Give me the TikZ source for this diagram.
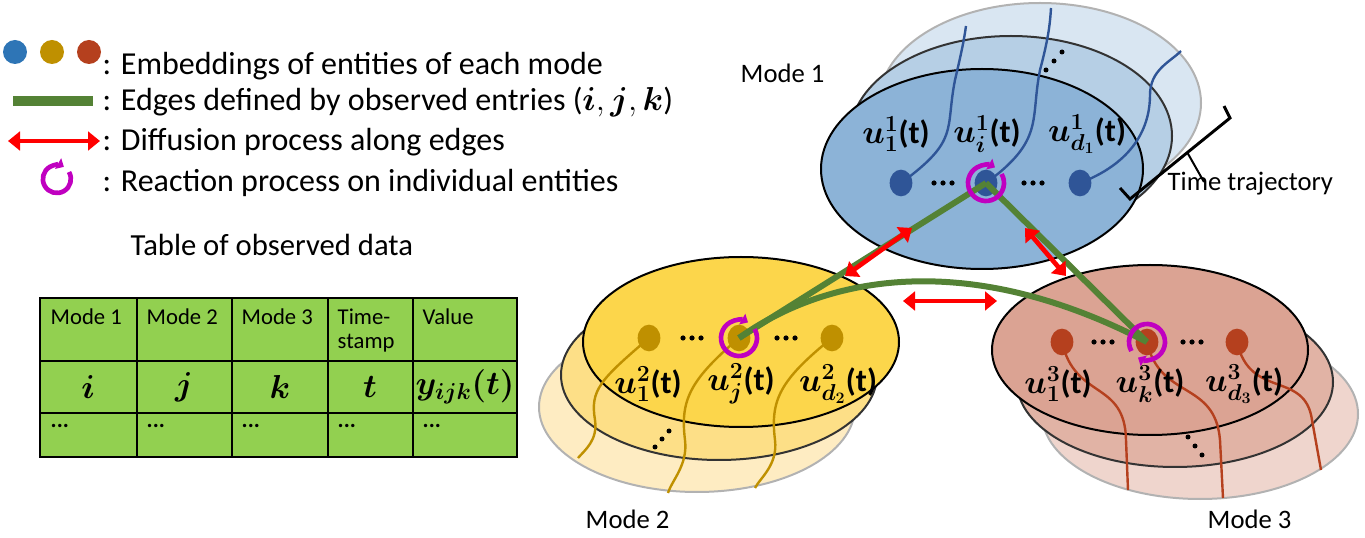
\documentclass[tikz,border=0pt]{standalone}
\usepackage{fontspec}
\usepackage{amsmath,bm}
\setmainfont{Carlito}
\usetikzlibrary{shapes.geometric,arrows.meta}
\definecolor{cb}{HTML}{2E75B6}
\definecolor{cbd}{HTML}{2F5597}
\definecolor{cg}{HTML}{BF9000}
\definecolor{cr}{HTML}{B5401E}
\definecolor{cgr}{HTML}{548235}
\definecolor{cmag}{HTML}{C000C0}
\definecolor{tgreen}{HTML}{92D050}
\begin{document}
\begin{tikzpicture}[x=0.75pt,y=-0.75pt,
  dotb/.style={ellipse,fill=cbd,minimum width=17pt,minimum height=20pt,inner sep=0pt},
  dotg/.style={ellipse,fill=cg,minimum width=17pt,minimum height=20pt,inner sep=0pt},
  dotr/.style={ellipse,fill=cr,minimum width=17pt,minimum height=20pt,inner sep=0pt},
  edge/.style={cgr,line width=4.5pt},
  diff/.style={red,line width=3.5pt,{Triangle[length=9pt,width=14pt]}-{Triangle[length=9pt,width=14pt]}},
  react/.style={cmag,line width=3.5pt,-{Triangle[length=5pt,width=9pt]}},
  lbl/.style={font=\fontsize{24}{26}\selectfont,inner sep=1pt},
  leg/.style={font=\fontsize{24}{28}\selectfont,anchor=west},
  mode/.style={font=\fontsize{20}{24}\selectfont},
  traj1/.style={cbd,line width=1.8pt},
  traj2/.style={cg,line width=1.8pt},
  traj3/.style={cr,line width=1.8pt},
  cell/.style={font=\fontsize{17}{18}\selectfont,anchor=north west,align=left},
  mcell/.style={font=\fontsize{24}{26}\selectfont}]
\useasboundingbox (0,0) rectangle (1365,538);
% legend
\fill[cb] (15,52) circle (12);
\fill[cg] (52,52) circle (12);
\fill[cr] (89,52) circle (12);
\node[leg] (l1) at (98,66) {: Embeddings of entities of each mode};
\draw[cgr,line width=7pt] (13,101) -- (93,101);
\node[leg] (l2) at (98,102) {: Edges defined by observed entries ($\bm{i},\bm{j},\bm{k}$)};
\draw[diff] (8,141) -- (100,141);
\node[leg] (l3) at (98,142) {: Diffusion process along edges};
\draw[react] (69,172) arc (-30:300:14);
\node[leg] (l4) at (98,183) {: Reaction process on individual entities};
\node[font=\fontsize{23}{26}\selectfont,anchor=west] (tt) at (126,245) {Table of observed data};
% table
\fill[tgreen] (40,298) rectangle (517,457);
\draw[line width=1.2pt] (40,298) rectangle (517,457);
\foreach \y in {361,413} \draw[line width=1.2pt] (40,\y) -- (517,\y);
\foreach \x in {137,232,328,413} \draw[line width=1.2pt] (\x,298) -- (\x,457);
\node[cell] at (46,304) {Mode 1};
\node[cell] at (142,304) {Mode 2};
\node[cell] at (237,304) {Mode 3};
\node[cell] at (333,304) {Time-\\stamp};
\node[cell] at (418,304) {Value};
\node[mcell] at (88,387) {$\bm{i}$};
\node[mcell] at (184,387) {$\bm{j}$};
\node[mcell] at (280,387) {$\bm{k}$};
\node[mcell] at (370,387) {$\bm{t}$};
\node[mcell] at (465,387) {$\bm{y_{ijk}(t)}$};
\foreach \x in {46,142,237,333,418} \node[cell] at (\x,420) {\textbf{...}};
% mode 1 ellipses
\filldraw[fill=cb!18,draw=gray!60,line width=1.5pt] (1040,103) ellipse (161 and 100);
\filldraw[fill=cb!35,draw=black!80,line width=1.5pt] (1011,136) ellipse (161 and 100);
\filldraw[fill=cb!55,draw=black,line width=1.5pt] (982,169) ellipse (161 and 100);
% mode 2 ellipses
\filldraw[fill=yellow!40!orange!22,draw=gray!60,line width=1.5pt] (697,407) ellipse (158 and 85);
\filldraw[fill=yellow!50!orange!45,draw=black!80,line width=1.5pt] (719,375) ellipse (158 and 85);
\filldraw[fill=yellow!60!orange!70,draw=black,line width=1.5pt] (741,342) ellipse (158 and 85);
% mode 3 ellipses
\filldraw[fill=cr!22,draw=gray!60,line width=1.5pt] (1200,414) ellipse (158 and 85);
\filldraw[fill=cr!40,draw=black!80,line width=1.5pt] (1175,382) ellipse (158 and 85);
\filldraw[fill=cr!48,draw=black,line width=1.5pt] (1150,350) ellipse (158 and 85);
% dots
\node[dotb] (a1) at (901,183) {};
\node[dotb] (ai) at (986,183) {};
\node[dotb] (ad) at (1080,183) {};
\node[dotg] (b1) at (649,338) {};
\node[dotg] (bj) at (739,338) {};
\node[dotg] (bd) at (832,338) {};
\node[dotr] (c1) at (1062,342) {};
\node[dotr] (ck) at (1147,342) {};
\node[dotr] (cd) at (1237,342) {};
% trajectories
\coordinate (ta1) at (966,26); \coordinate (tai) at (1051,8); \coordinate (tad) at (1181,51);
\draw[traj1] (a1.center) .. controls (960,140) and (945,130) .. (955,80) .. controls (962,50) and (964,40) .. (ta1);
\draw[traj1] (ai.center) .. controls (1045,140) and (1030,120) .. (1040,70) .. controls (1048,40) and (1050,25) .. (tai);
\draw[traj1] (ad.center) .. controls (1140,160) and (1150,120) .. (1150,95) .. controls (1150,70) and (1170,62) .. (tad);
\coordinate (tb1) at (578,458); \coordinate (tbj) at (668,493); \coordinate (tbd) at (755,488);
\draw[traj2] (b1.center) .. controls (600,380) and (590,390) .. (595,420) .. controls (598,440) and (585,450) .. (tb1);
\draw[traj2] (bj.center) .. controls (690,380) and (680,400) .. (685,440) .. controls (688,465) and (672,480) .. (tbj);
\draw[traj2] (bd.center) .. controls (780,380) and (770,400) .. (775,440) .. controls (778,465) and (760,478) .. (tbd);
\coordinate (tc1) at (1128,490); \coordinate (tck) at (1223,498); \coordinate (tcd) at (1321,470);
\draw[traj3] (c1.center) .. controls (1075,400) and (1125,380) .. (1126,440) -- (tc1);
\draw[traj3] (ck.center) .. controls (1160,400) and (1215,380) .. (1220,440) -- (tck);
\draw[traj3] (cd.center) .. controls (1250,400) and (1305,370) .. (1312,420) -- (tcd);
% ellipsis marks (drawn as dots)
\foreach \x/\y in {1046/70,1054/61,1062/52, 655/447,662/439,669/431, 1188/437,1195/446,1202/455}
  \fill (\x,\y) circle (2.5);
\foreach \x/\y in {943/183,1033/183,692/338,786/338,1103/342,1192/342}
  \foreach \d in {-9,0,9} \fill (\x+\d,\y) circle (2.6);
% labels
\node[lbl] at (896,134) {$\bm{u}^{\bm 1}_{\bm 1}$\textbf{(t)}};
\node[lbl] at (987,134) {$\bm{u}^{\bm 1}_{\bm i}$\textbf{(t)}};
\node[lbl] at (1087,134) {$\bm{u}^{\bm 1}_{\bm{d_1}}$\textbf{(t)}};
\node[lbl] at (648,384) {$\bm{u}^{\bm 2}_{\bm 1}$\textbf{(t)}};
\node[lbl] at (741,384) {$\bm{u}^{\bm 2}_{\bm j}$\textbf{(t)}};
\node[lbl] at (838,384) {$\bm{u}^{\bm 2}_{\bm{d_2}}$\textbf{(t)}};
\node[lbl] at (1058,384) {$\bm{u}^{\bm 3}_{\bm 1}$\textbf{(t)}};
\node[lbl] at (1150,384) {$\bm{u}^{\bm 3}_{\bm k}$\textbf{(t)}};
\node[lbl] at (1244,384) {$\bm{u}^{\bm 3}_{\bm{d_3}}$\textbf{(t)}};
% edges
\draw[edge] (ai.center) -- (bj.center);
\draw[edge] (ai.center) -- (ck.center);
\draw[edge] (bj.center) .. controls (820,280) and (960,245) .. (ck.center);
% reaction arcs
\draw[react] ([shift={(-30:18)}]ai.center) arc (-30:300:18);
\draw[react] ([shift={(-30:18)}]bj.center) arc (-30:300:18) ;
\draw[react] ([shift={(150:18)}]ck.center) arc (150:480:18);
% diffusion arrows
\coordinate (d1a) at (845,276); \coordinate (d1b) at (912,228);
\coordinate (d2a) at (1025,228); \coordinate (d2b) at (1066,276);
\coordinate (d3a) at (903,301); \coordinate (d3b) at (997,301);
\draw[diff] (d1a) -- (d1b);
\draw[diff] (d2a) -- (d2b);
\draw[diff] (d3a) -- (d3b);
% time trajectory bracket
\draw[line width=2.2pt] (1120,188) -- (1130,199) -- (1230,118) -- (1224,106);
\draw[line width=1.5pt] (1187,152) -- (1204,182);
\node[mode,anchor=west] (tl) at (1163,184) {Time trajectory};
\node[mode,anchor=west] (m1) at (736,73) {Mode 1};
\node[mode,anchor=west] (m2) at (581,519) {Mode 2};
\node[mode,anchor=west] (m3) at (1203,519) {Mode 3};
\end{tikzpicture}
\end{document}
